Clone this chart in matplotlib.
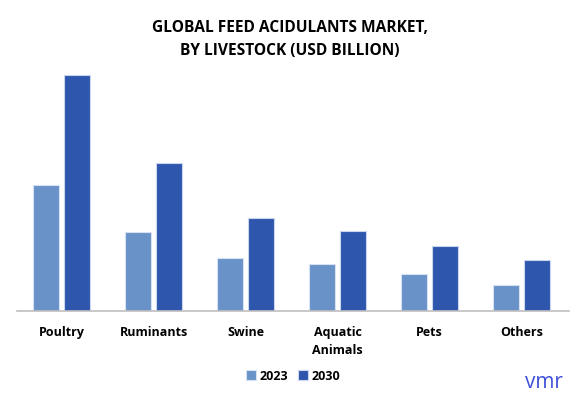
import matplotlib.pyplot as plt
import numpy as np

plt.rcParams['font.family'] = ['Open Sans', 'DejaVu Sans']

categories = ['Poultry', 'Ruminants', 'Swine', 'Aquatic\nAnimals', 'Pets', 'Others']
values_2023 = [1.26, 0.79, 0.53, 0.47, 0.37, 0.26]
values_2030 = [2.36, 1.48, 0.93, 0.80, 0.65, 0.51]

color_2023 = '#6892C8'
color_2030 = '#2E56AD'

fig = plt.figure(figsize=(5.79, 3.96), dpi=100)
ax = fig.add_axes([17 / 579, 85 / 396, 552 / 579, 241 / 396])

x = np.arange(len(categories))
w = 0.29
ax.bar(x - 0.168, values_2023, w, color=color_2023, edgecolor='#D6E2F2', linewidth=0.8, label='2023')
ax.bar(x + 0.168, values_2030, w, color=color_2030, edgecolor='#C9D6EE', linewidth=0.8, label='2030')

ax.set_xlim(-0.484, 5.516)
ax.set_ylim(0, 2.41)
ax.set_yticks([])
ax.set_xticks(x)
ax.set_xticklabels(categories, fontsize=9, fontweight='bold', linespacing=1.5)
ax.tick_params(axis='x', length=0, pad=11)
for s in ['top', 'right', 'left']:
    ax.spines[s].set_visible(False)
ax.spines['bottom'].set_color('#BFBFBF')
ax.spines['bottom'].set_linewidth(1.2)

fig.text(0.5, 0.9, 'GLOBAL FEED ACIDULANTS MARKET,\nBY LIVESTOCK (USD BILLION)',
         ha='center', va='center', fontsize=11.2, fontweight='bold', linespacing=1.55)

ax.legend(loc='center', bbox_to_anchor=(0.5, -0.27), ncol=2, frameon=False,
          prop={'weight': 'bold', 'size': 9}, handlelength=0.8, handleheight=0.8,
          handletextpad=0.3, columnspacing=0.8)

fig.text(0.94, 0.035, 'vmr', ha='center', va='center', fontsize=15, color='#3D4FD8')

fig.savefig('out.png', dpi=100)
